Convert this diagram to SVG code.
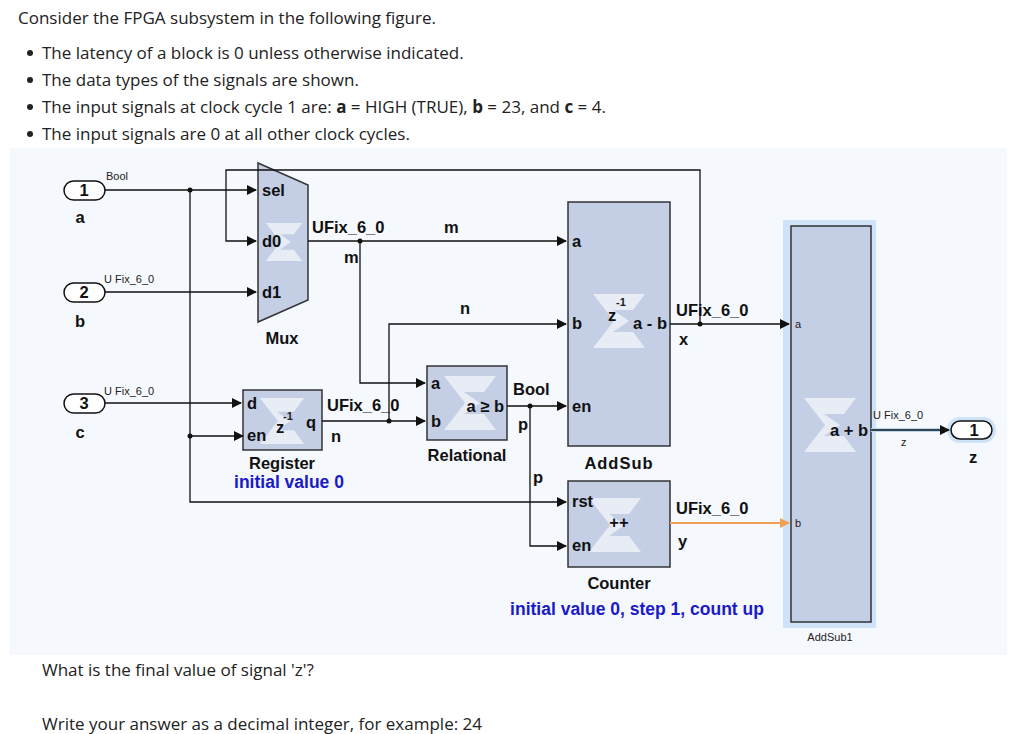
<svg xmlns="http://www.w3.org/2000/svg" width="1024" height="734" viewBox="0 0 1024 734">
<style>
.q{font-family:"Open Sans","Noto Sans",sans-serif;font-size:17px;fill:#222}
.t{font-family:"Liberation Sans",Arial,sans-serif;font-weight:bold;font-size:16.5px;fill:#111}
.s{font-family:"Liberation Sans",Arial,sans-serif;font-size:11px;fill:#222}
.blk{fill:#c4cfe6;stroke:#333;stroke-width:1.5}
.w{fill:none;stroke:#111;stroke-width:1.3}
.blue{font-family:"Liberation Sans",Arial,sans-serif;font-weight:bold;font-size:17.5px;fill:#1a1ac8}
.port{fill:#fff;stroke:#111;stroke-width:1.5}
</style>
<defs>
<marker id="ar" markerWidth="10" markerHeight="10" refX="9" refY="5" orient="auto" markerUnits="userSpaceOnUse"><path d="M0,0L10,5L0,10z" fill="#111"/></marker>
<marker id="ao" markerWidth="10" markerHeight="10" refX="9" refY="5" orient="auto" markerUnits="userSpaceOnUse"><path d="M0,0L10,5L0,10z" fill="#f0a050"/></marker>
<g id="logo" fill="#fff" opacity="0.6"><path d="M-26,-27L26,-27L14,-11L-6,-11L10,0L-6,11L14,11L26,27L-26,27L-5,0z"/></g>
</defs>
<rect width="1024" height="734" fill="#fff"/>
<rect x="10" y="148" width="997" height="507" fill="#f5f8fc"/>
<text class="q" x="18" y="24">Consider the FPGA subsystem in the following figure.</text>
<g class="q">
<circle cx="30" cy="53" r="3" fill="#222"/><text x="42" y="59">The latency of a block is 0 unless otherwise indicated.</text>
<circle cx="30" cy="80" r="3" fill="#222"/><text x="42" y="86">The data types of the signals are shown.</text>
<circle cx="30" cy="107" r="3" fill="#222"/><text x="42" y="113">The input signals at clock cycle 1 are: <tspan font-weight="bold">a</tspan> = HIGH (TRUE), <tspan font-weight="bold">b</tspan> = 23, and <tspan font-weight="bold">c</tspan> = 4.</text>
<circle cx="30" cy="134" r="3" fill="#222"/><text x="42" y="140">The input signals are 0 at all other clock cycles.</text>
</g>
<text class="q" x="42" y="676">What is the final value of signal 'z'?</text>
<text class="q" x="42" y="730">Write your answer as a decimal integer, for example: 24</text>

<g id="in1"><rect class="port" x="64" y="181" width="41" height="19" rx="9.5"/><text class="t" x="84" y="196" text-anchor="middle">1</text><text class="t" x="80" y="223" text-anchor="middle">a</text><text class="s" x="106" y="180">Bool</text></g>
<g id="in2"><rect class="port" x="64" y="283" width="41" height="19" rx="9.5"/><text class="t" x="84" y="298" text-anchor="middle">2</text><text class="t" x="80" y="327" text-anchor="middle">b</text><text class="s" x="104" y="283">U Fix_6_0</text></g>
<g id="in3"><rect class="port" x="64" y="394" width="41" height="19" rx="9.5"/><text class="t" x="84" y="409" text-anchor="middle">3</text><text class="t" x="80" y="438" text-anchor="middle">c</text><text class="s" x="104" y="395">U Fix_6_0</text></g>

<g id="mux"><path class="blk" d="M258,163L308,185V300L258,322Z"/><use href="#logo" x="284" y="242" transform="translate(284,242) scale(0.7) translate(-284,-242)"/>
<text class="t" x="262" y="196">sel</text><text class="t" x="262" y="247">d0</text><text class="t" x="262" y="298">d1</text><text class="t" x="282" y="344" text-anchor="middle">Mux</text></g>
<text class="t" x="312" y="233">UFix_6_0</text><text class="t" x="444" y="233">m</text><text class="t" x="344" y="263">m</text>
<text class="t" x="460" y="314">n</text><text class="t" x="327" y="411">UFix_6_0</text><text class="t" x="331" y="442">n</text>

<g id="register"><rect class="blk" x="243" y="390" width="79" height="60"/><use href="#logo" x="282" y="421" transform="translate(282,421) scale(0.85) translate(-282,-421)"/>
<text class="t" x="247" y="409">d</text><text class="t" x="247" y="441">en</text><text class="t" x="276" y="433">z</text><text class="s" x="283" y="420" font-weight="bold">-1</text><text class="t" x="306" y="428">q</text>
<text class="t" x="282" y="469" text-anchor="middle">Register</text><text class="blue" x="289" y="488" text-anchor="middle">initial value 0</text></g>

<g id="relational"><rect class="blk" x="427" y="366" width="80" height="74"/><use href="#logo" x="470" y="403"/>
<text class="t" x="431" y="389">a</text><text class="t" x="431" y="427">b</text><text class="t" x="504" y="412" text-anchor="end">a ≥ b</text>
<text class="t" x="467" y="461" text-anchor="middle">Relational</text></g>
<text class="t" x="513" y="395">Bool</text><text class="t" x="518" y="430">p</text><text class="t" x="533" y="483">p</text>

<g id="addsub"><rect class="blk" x="568" y="202" width="102" height="244"/><use href="#logo" x="619" y="321"/>
<text class="t" x="572" y="247">a</text><text class="t" x="572" y="329">b</text><text class="t" x="572" y="412">en</text>
<text class="t" x="608" y="321">z</text><text class="s" x="616" y="306" font-weight="bold">-1</text><text class="t" x="667" y="329" text-anchor="end">a - b</text>
<text class="t" x="619" y="469" text-anchor="middle" letter-spacing="1">AddSub</text></g>
<text class="t" x="676" y="316">UFix_6_0</text><text class="t" x="679" y="345">x</text>

<g id="counter"><rect class="blk" x="568" y="481" width="102" height="86"/><use href="#logo" x="615" y="525"/>
<text class="t" x="572" y="507">rst</text><text class="t" x="572" y="551">en</text><text class="t" x="619" y="528" text-anchor="middle">++</text>
<text class="t" x="619" y="589" text-anchor="middle">Counter</text><text class="blue" x="637" y="615" text-anchor="middle">initial value 0, step 1, count up</text></g>
<text class="t" x="676" y="514">UFix_6_0</text><text class="t" x="678" y="547">y</text>

<g id="addsub1"><rect x="783" y="220" width="93" height="408" fill="#cfe3f8"/><rect class="blk" x="791" y="226" width="80" height="396"/><use href="#logo" x="830" y="425"/>
<text class="s" x="795" y="328">a</text><text class="s" x="795" y="527">b</text><text class="t" x="868" y="436" text-anchor="end" font-size="14">a + b</text>
<text class="s" x="830" y="641" text-anchor="middle" font-size="13">AddSub1</text></g>
<text class="s" x="873" y="419" font-size="10">U Fix_6_0</text><text class="s" x="901" y="446">z</text>

<g id="out1"><rect x="947" y="417" width="49" height="26" rx="13" fill="#cfe3f8"/><rect class="port" x="951" y="421" width="41" height="18" rx="9"/><text class="t" x="974" y="436" text-anchor="middle">1</text><text class="t" x="973" y="463" text-anchor="middle">z</text></g>

<g id="connectors">
<path class="w" d="M105,190H256" marker-end="url(#ar)"/>
<path class="w" d="M190,190V502H566" marker-end="url(#ar)"/>
<path class="w" d="M190,436H243" marker-end="url(#ar)"/>
<path class="w" d="M105,292H256" marker-end="url(#ar)"/>
<path class="w" d="M105,403H241" marker-end="url(#ar)"/>
<path class="w" d="M700,324V170H226V241H256" marker-end="url(#ar)"/>
<path class="w" d="M308,241H566" marker-end="url(#ar)"/>
<path class="w" d="M360,241V383H425" marker-end="url(#ar)"/>
<path class="w" d="M322,421H425" marker-end="url(#ar)"/>
<path class="w" d="M389,421V324H566" marker-end="url(#ar)"/>
<path class="w" d="M507,406H566" marker-end="url(#ar)"/>
<path class="w" d="M530,406V546H566" marker-end="url(#ar)"/>
<path class="w" d="M670,324H789" marker-end="url(#ar)"/>
<path fill="none" stroke="#f0a050" stroke-width="1.8" d="M670,523H789" marker-end="url(#ao)"/>
<path fill="none" stroke="#b8d8f4" stroke-width="4" d="M871,430H946"/>
<path class="w" d="M871,430H949" marker-end="url(#ar)"/>
<g fill="#111"><circle cx="190" cy="190" r="2.5"/><circle cx="190" cy="436" r="2.5"/><circle cx="360" cy="241" r="2.5"/><circle cx="389" cy="421" r="2.5"/><circle cx="530" cy="406" r="2.5"/><circle cx="700" cy="324" r="2.5"/></g>
</g>
</svg>
